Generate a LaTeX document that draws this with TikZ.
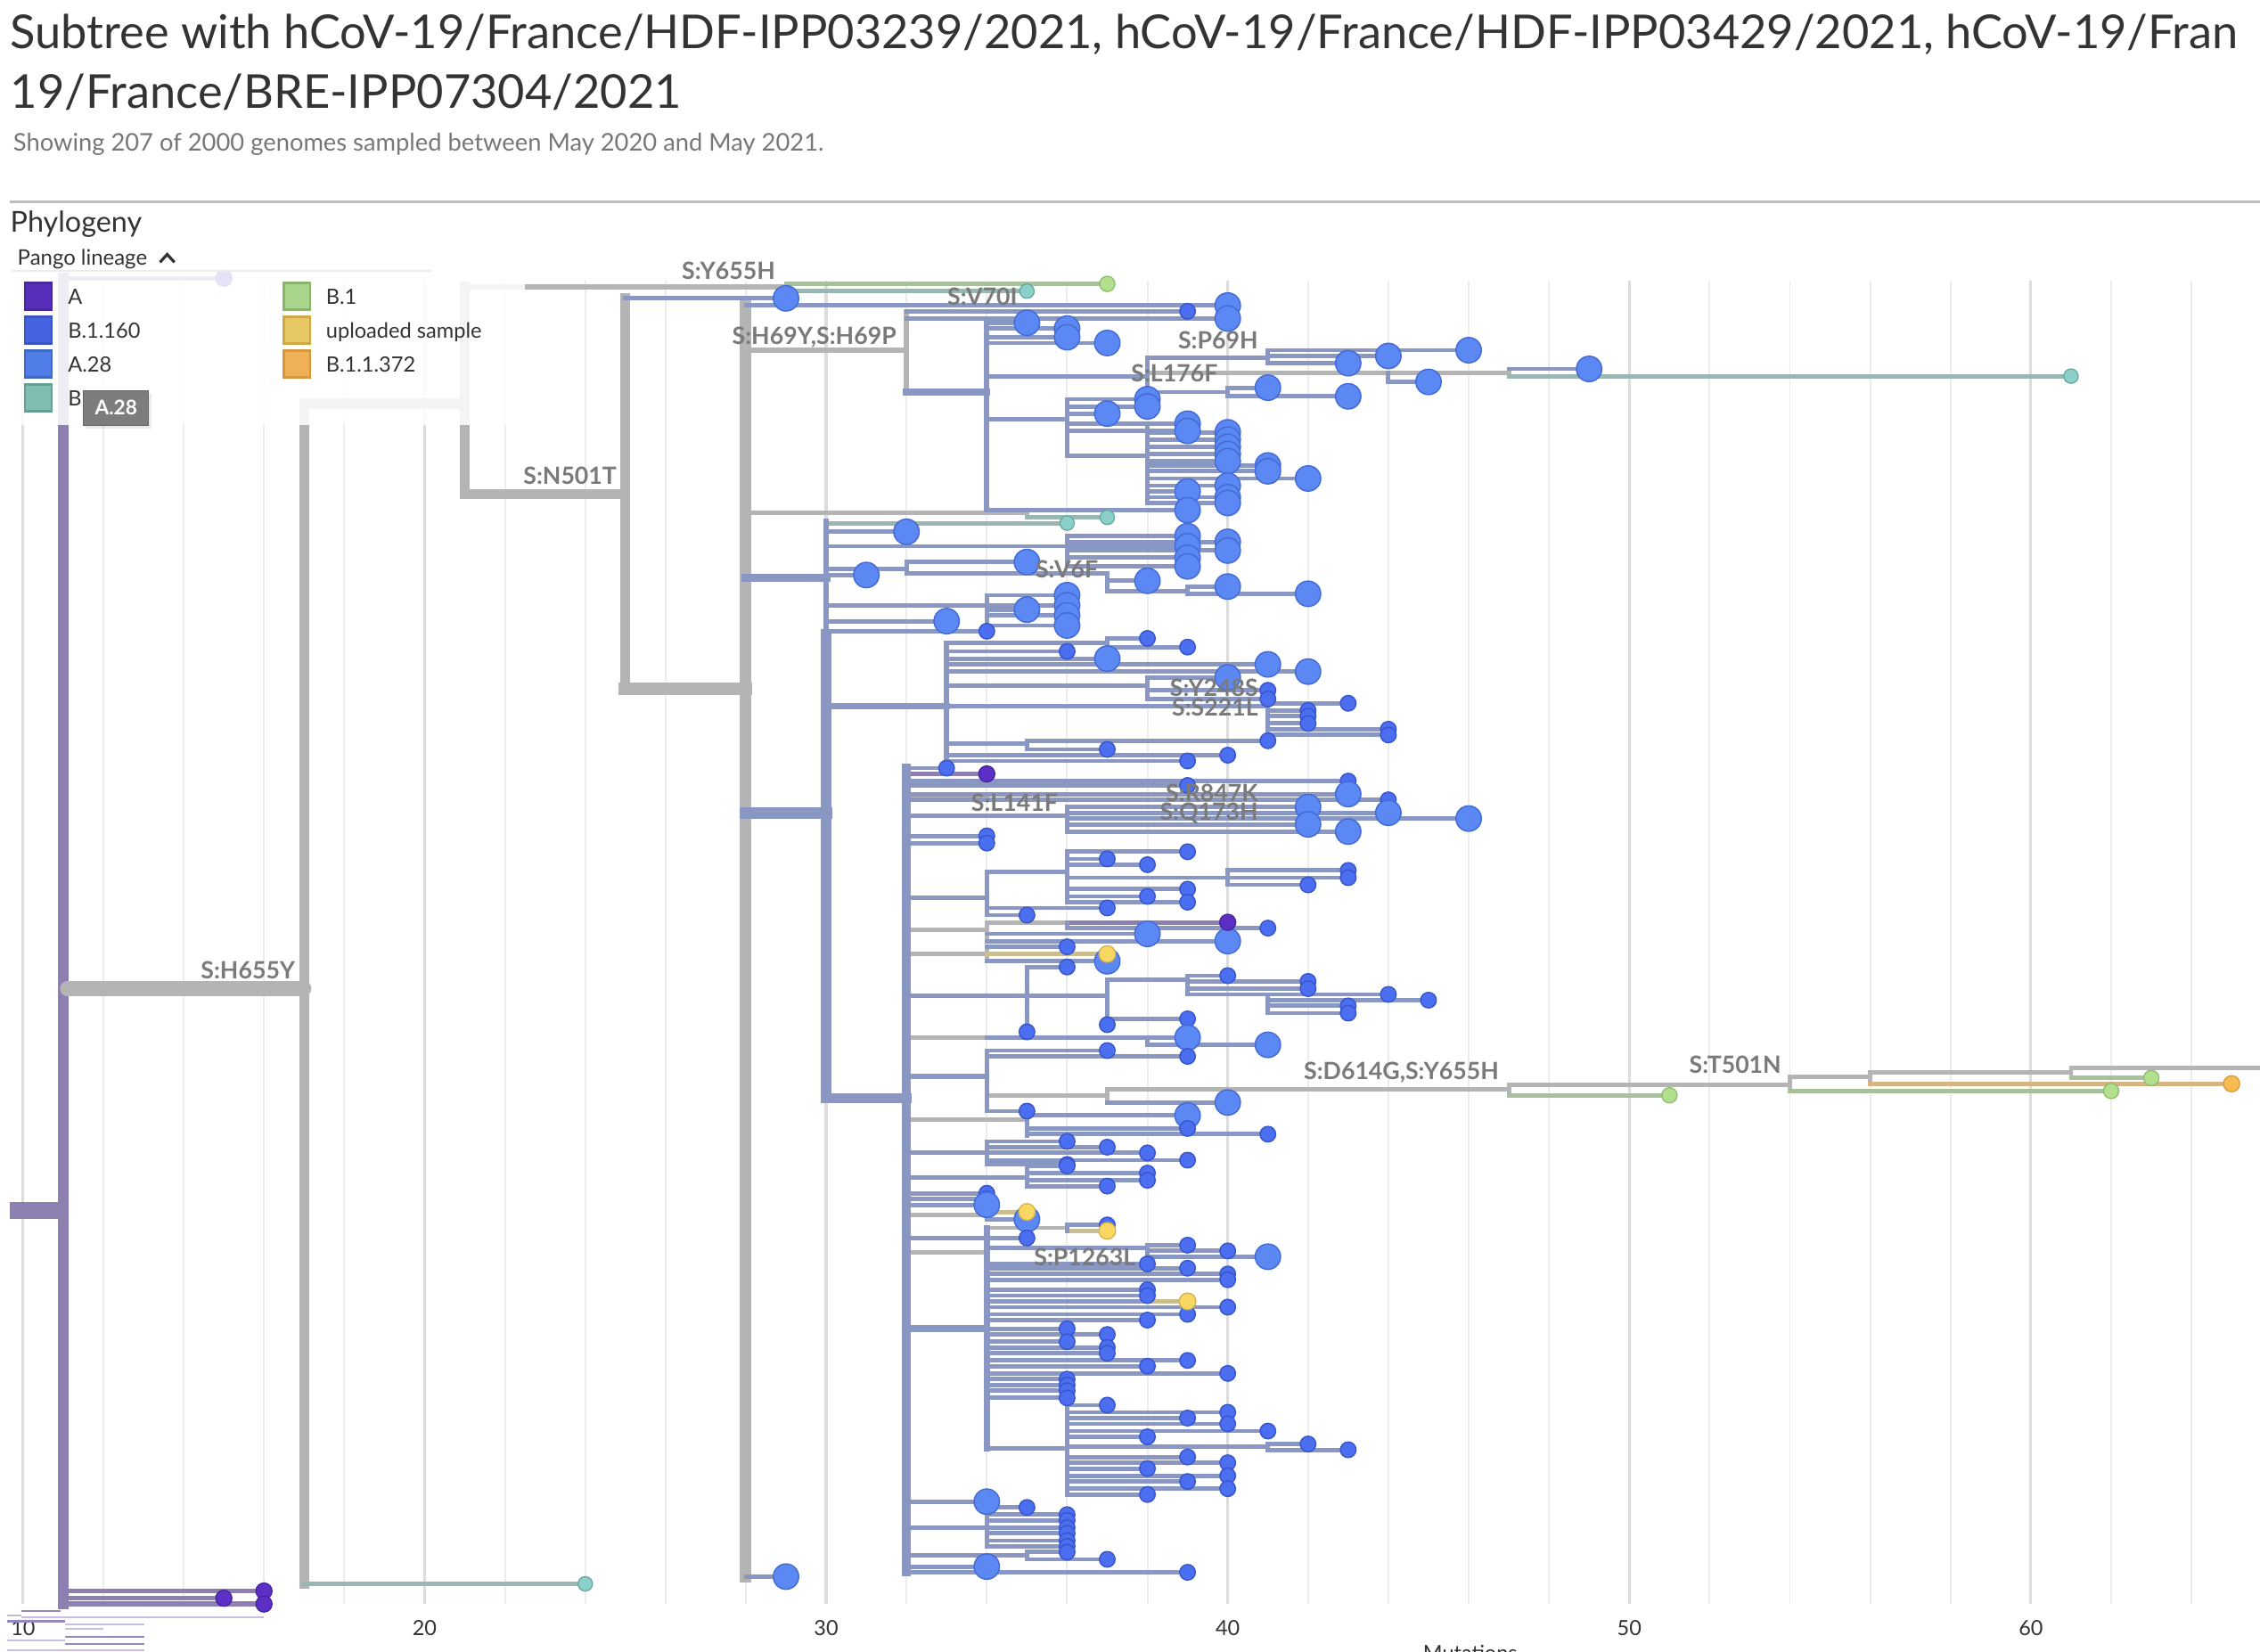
\documentclass[tikz,border=0pt]{standalone}
\usepackage{fontspec}
\setmainfont{Lato}
\definecolor{brblue}{RGB}{137,151,194}
\definecolor{brgrey}{RGB}{180,180,180}
\definecolor{brpurple}{RGB}{142,127,177}
\definecolor{brteal}{RGB}{154,182,178}
\definecolor{brgreen}{RGB}{168,192,156}
\definecolor{brtan}{RGB}{203,190,142}
\definecolor{brorange}{RGB}{214,180,132}
\definecolor{bigblue}{RGB}{91,136,243}
\definecolor{bigblueline}{RGB}{68,106,214}
\definecolor{smallblue}{RGB}{76,110,240}
\definecolor{smallblueline}{RGB}{56,86,204}
\definecolor{lineA}{RGB}{92,48,196}
\definecolor{lineAdark}{RGB}{70,36,160}
\definecolor{lineB}{RGB}{138,208,200}
\definecolor{lineBdark}{RGB}{104,168,160}
\definecolor{lineBone}{RGB}{178,224,142}
\definecolor{lineBonedark}{RGB}{138,190,108}
\definecolor{upload}{RGB}{248,216,98}
\definecolor{uploaddark}{RGB}{214,176,66}
\definecolor{orangeB}{RGB}{246,187,82}
\definecolor{orangeBdark}{RGB}{218,154,52}
\definecolor{labelgrey}{RGB}{122,122,122}
\definecolor{textdark}{RGB}{51,51,51}
\definecolor{subgrey}{RGB}{119,119,119}
\definecolor{rulegrey}{RGB}{190,190,190}
\definecolor{gridlight}{RGB}{236,236,236}
\definecolor{griddark}{RGB}{220,220,220}
\definecolor{legA}{RGB}{86,46,186}
\definecolor{legAd}{RGB}{72,38,158}
\definecolor{legBa}{RGB}{70,100,226}
\definecolor{legBad}{RGB}{58,84,196}
\definecolor{legAb}{RGB}{80,126,230}
\definecolor{legAbd}{RGB}{64,104,200}
\definecolor{legB}{RGB}{128,190,180}
\definecolor{legBd}{RGB}{100,160,150}
\definecolor{legBone}{RGB}{168,212,140}
\definecolor{legBoned}{RGB}{138,180,110}
\definecolor{legU}{RGB}{232,200,100}
\definecolor{legUd}{RGB}{206,170,70}
\definecolor{legO}{RGB}{240,176,88}
\definecolor{legOd}{RGB}{215,150,60}
\definecolor{tooltipgrey}{RGB}{125,125,125}
\definecolor{minilav}{RGB}{200,190,225}
\definecolor{minipur}{RGB}{150,135,190}

\tikzset{
  branch/.style={line width=3pt, line cap=rect},
  bb/.style={branch, draw=brblue},
  gb/.style={branch, draw=brgrey},
  pb/.style={branch, draw=brpurple},
  tb/.style={branch, draw=brteal},
  greenb/.style={branch, draw=brgreen},
  ob/.style={branch, draw=brorange},
  yb/.style={branch, draw=brtan},
  tipL/.style={fill=bigblue, draw=bigblueline, line width=0.9pt, radius=8.8pt},
  tipS/.style={fill=smallblue, draw=smallblueline, line width=0.9pt, radius=5.4pt},
  tipN/.style={radius=0.1pt},
  tipA/.style={fill=lineA, draw=lineAdark, line width=0.8pt, radius=5.6pt},
  tipB/.style={fill=lineB, draw=lineBdark, line width=0.8pt, radius=5pt},
  tipBone/.style={fill=lineBone, draw=lineBonedark, line width=0.8pt, radius=5.3pt},
  tipU/.style={fill=upload, draw=uploaddark, line width=0.8pt, radius=5.8pt},
  tipO/.style={fill=orangeB, draw=orangeBdark, line width=0.8pt, radius=5.6pt},
  gridminor/.style={draw=gridlight, line width=1.2pt},
  gridmajor/.style={draw=griddark, line width=2pt},
  lbl/.style={font=\fontsize{16.5}{18}\selectfont\bfseries, text=labelgrey, anchor=base east, inner sep=0pt},
  legtxt/.style={font=\fontsize{14.6}{16}\selectfont, text=textdark, anchor=base west, inner sep=0pt},
  legsq/.style={minimum size=18.5pt, inner sep=0pt, line width=1.6pt},
  ticklbl/.style={font=\fontsize{14.5}{16}\selectfont, text=textdark, anchor=base, inner sep=0pt},
  minil/.style={line width=1.3pt}
}

\def\hbtop{25/29/207/L, 28/40/212/L, 32/39/216/S, 32/40/221/L, 34/35/224/L, 34/36/228/L, 34/36/234/L, 34/37/238/L,
  34/38/261/N, 38/41/248/N, 41/46/243/L, 41/44/247/L, 41/43/252/L, 44/45/265/L, 47/49/256/L, 38/40/272/N,
  40/41/269/L, 40/43/275/L, 34/36/291/N, 36/38/277/L, 36/38/282/L, 36/37/287/L, 36/39/294/L, 36/39/299/L,
  36/38/316/N, 38/40/300/L, 38/40/305/L, 38/40/310/L, 38/40/315/L, 38/40/320/L, 38/41/323/L, 38/41/327/L,
  38/42/332/L, 38/40/337/L, 38/39/341/L, 38/40/345/L, 38/40/349/L, 34/39/354/L}

\def\hbmid{30/32/369/L, 30/36/379/N, 36/39/372/L, 36/40/376/L, 36/39/379/L, 36/40/382/L, 36/39/387/L, 36/39/393/L,
  30/32/395/N, 32/35/390/L, 32/37/398/N, 37/38/403/L, 37/39/410/N, 39/40/407/L, 39/42/412/L, 30/31/399/L,
  30/34/420/N, 34/36/413/L, 34/35/423/L, 34/36/420/L, 34/36/427/L, 34/36/434/L, 30/33/431/L, 30/34/438/S,
  33/37/446/N, 37/38/443/S, 37/39/449/S, 33/36/452/S, 33/37/457/L, 33/41/461/L, 33/42/466/L, 33/38/476/N,
  38/40/470/L, 38/41/479/S, 38/41/485/S, 33/41/490/N, 41/43/488/S, 41/42/493/S, 41/42/497/S, 41/42/502/S,
  41/44/506/S, 41/44/510/S, 33/35/516/N, 35/41/514/S, 35/37/520/S, 33/40/524/S, 33/39/528/S}

\def\hblow{32/33/533/S, 32/43/542/S, 32/39/545/S, 32/43/551/L, 32/44/555/S, 32/36/566/N, 36/42/560/L, 36/44/564/L,
  36/46/568/L, 36/42/572/L, 36/43/577/L, 32/34/580/S, 32/34/585/S, 32/34/623/N, 34/36/605/N, 36/39/591/S,
  36/37/596/S, 36/38/600/S, 36/40/609/N, 40/43/604/S, 40/43/609/S, 40/42/614/S, 36/39/617/S, 36/38/622/S,
  36/39/626/S, 34/37/630/S, 34/35/635/S, 36/41/644/S, 34/38/648/L, 34/40/653/L, 34/36/657/S, 34/37/667/L,
  32/35/691/N, 35/36/671/S, 35/37/691/N, 37/39/680/N, 39/40/677/S, 39/42/681/S, 39/42/686/S, 39/41/690/N,
  41/44/690/S, 41/45/694/S, 41/43/698/S, 41/43/703/S, 37/39/707/S, 37/37/711/S, 35/35/716/S, 34/39/720/L,
  38/41/725/L, 34/37/729/S, 34/39/733/S, 37/40/765/L, 34/35/771/S, 35/39/774/L, 35/39/783/S, 35/41/787/S,
  32/34/800/N, 34/36/792/S, 34/37/796/S, 34/38/800/S, 34/39/805/S, 34/36/808/S, 32/35/817/N, 35/36/809/S,
  35/38/814/S, 35/38/819/S, 35/37/823/S, 32/34/828/S, 32/34/832/S, 32/34/836/L, 34/35/846/L, 32/35/859/S,
  36/37/850/S, 34/38/866/N, 38/39/864/S, 38/40/868/S, 38/41/872/L, 34/38/877/S, 34/39/880/S, 34/40/884/S,
  34/40/888/S, 34/38/895/S, 34/38/899/S, 34/38/903/N, 34/40/907/S, 34/39/912/S, 34/38/916/S, 34/36/922/S,
  34/37/926/S, 34/36/931/S, 34/37/935/S, 34/37/939/S, 34/39/944/S, 34/38/948/S, 34/40/953/S, 34/36/957/S,
  34/36/961/S, 34/36/965/S, 34/36/970/S, 34/36/1005/N, 36/37/975/S, 36/40/980/S, 36/39/984/S, 36/40/988/S,
  36/41/993/S, 36/38/997/S, 36/41/1004/N, 41/42/1002/S, 41/43/1006/S, 36/39/1011/S, 36/40/1015/S, 36/38/1019/S,
  36/40/1024/S, 36/39/1028/S, 36/40/1033/S, 36/38/1037/S, 32/34/1042/L, 32/34/1060/N, 34/35/1046/S, 34/36/1051/S,
  34/36/1055/S, 34/36/1060/S, 34/36/1064/S, 34/36/1069/S, 34/36/1073/S, 32/35/1079/N, 35/36/1077/S, 35/37/1082/S,
  32/34/1087/L, 32/39/1091/S, 28/29/1094/L}

\def\vb{34/224/354/3.5, 38/248/272/3, 41/243/252/3, 44/259/265/3, 40/269/275/3, 36/277/316/3,
  38/297/349/3, 30/362/438/4, 36/372/393/3, 32/390/398/3, 37/398/410/3, 39/407/412/3, 34/413/434/3,
  30/440/762/7, 33/446/528/3.5, 37/443/449/3, 38/470/485/3, 41/488/510/3, 35/514/520/3, 32/533/1091/6,
  36/560/577/3, 34/605/635/3, 36/591/626/3, 40/604/614/3, 36/640/644/3, 35/671/716/3, 37/680/711/3,
  39/677/690/3, 41/690/703/3, 38/720/725/3, 34/729/771/3, 35/773/788/3, 34/792/808/3, 35/809/823/3,
  34/841/846/3, 34/852/1005/4, 36/850/854/3, 38/864/872/3, 36/975/1037/3, 41/1002/1006/3,
  34/1046/1073/3, 35/1077/1082/3}

\begin{document}
\begin{tikzpicture}[x=1pt,y=-1pt]
\useasboundingbox (0,0) rectangle (1568,1146);
\fill[white] (0,0) rectangle (1568,1146);

\node[anchor=base west, inner sep=0pt, text=textdark, font=\fontsize{32.4}{38}\selectfont] (title) at (7,34)
  {Subtree with hCoV-19/France/HDF-IPP03239/2021, hCoV-19/France/HDF-IPP03429/2021, hCoV-19/Fran};
\node[anchor=base west, inner sep=0pt, text=textdark, font=\fontsize{32.4}{38}\selectfont] (titletwo) at (7,75)
  {19/France/BRE-IPP07304/2021};
\node[anchor=base west, inner sep=0pt, text=subgrey, font=\fontsize{16.9}{19}\selectfont] (subtitle) at (9,105)
  {Showing 207 of 2000 genomes sampled between May 2020 and May 2021.};
\draw[rulegrey, line width=2pt] (7,140) -- (1568,140);
\node[anchor=base west, inner sep=0pt, text=textdark, font=\fontsize{20}{22}\selectfont] (phylo) at (7,161) {Phylogeny};

\begin{scope}[x=27.86pt, xshift=-262.6pt]
  \foreach \m in {12,14,...,64} \draw[gridminor] (\m,195) -- (\m,1113);
  \foreach \m in {10,20,...,60} {
    \draw[gridmajor] (\m,195) -- (\m,1113);
    \node[ticklbl] (tick\m) at (\m,1135) {\m};
  }

  \draw[pb, line width=12pt, line cap=butt] (9.68,840) -- (11,840);
  \draw[pb, line width=7pt] (11,193) -- (11,1113);
  \draw[pb] (11,193) -- (15,193);
  \draw[pb, line width=3.4pt] (11,1104) -- (16,1104);
  \draw[pb, line width=3.4pt] (11,1109) -- (15,1109);
  \draw[pb, line width=3.4pt] (11,1113) -- (16,1113);

  \draw[gb, line width=10pt, line cap=round] (11.1,686) -- (17,686);
  \draw[gb, line width=7pt] (17,280) -- (17,1099);
  \draw[tb, line width=3.5pt] (17,1099) -- (24,1099);
  \draw[gb, line width=7pt] (17,280) -- (21,280);
  \draw[gb, line width=7pt] (21,199) -- (21,343);
  \draw[gb, line width=3.5pt] (21,199) -- (29,199);
  \draw[gb] (29,197) -- (29,202);
  \draw[greenb] (29,197) -- (37,197);
  \draw[tb] (29,202) -- (35,202);
  \draw[gb, line width=7pt] (21,343) -- (25,343);
  \draw[gb, line width=7pt] (25,207) -- (25,478);
  \draw[gb, line width=9pt] (25,478) -- (28,478);
  \draw[gb, line width=8pt] (28,212) -- (28,1094);
  \draw[gb, line width=4pt] (28,243) -- (32,243);
  \draw[gb, line width=3.5pt] (32,216) -- (32,272);
  \draw[gb] (28,356) -- (35,356);
  \draw[gb] (35,356) -- (35,359);
  \draw[tb] (35,359) -- (37,359);
  \draw[tb] (30,363) -- (36,363);
  \draw[gb] (38,259) -- (47,259);
  \draw[gb] (47,256) -- (47,261);
  \draw[tb] (47,261) -- (61,261);

  \draw[bb, line width=5pt] (32,272) -- (34,272);
  \draw[bb, line width=6pt] (28,401) -- (30,401);
  \draw[bb, line width=8pt] (28,564) -- (30,564);
  \draw[bb, line width=4.5pt] (30,490) -- (33,490);
  \draw[bb, line width=7pt] (30,762) -- (32,762);
  \draw[bb, line width=5pt] (32,922) -- (34,922);
  \draw[bb, line width=3.5pt] (32,747) -- (34,747);

  \draw[gb] (32,553) -- (34,553);
  \draw[pb] (32,537) -- (34,537);
  \draw[gb] (32,645) -- (34,645);
  \draw[gb] (34,640) -- (34,653);
  \draw[gb] (34,640) -- (36,640);
  \draw[pb] (36,640) -- (40,640);
  \draw[gb] (32,662) -- (34,662);
  \draw[gb] (34,657) -- (34,667);
  \draw[yb] (34,662) -- (37,662);
  \draw[gb] (32,720) -- (34,720);
  \draw[gb] (34,760) -- (37,760);
  \draw[gb] (37,756) -- (37,765);
  \draw[gb] (37,756) -- (47,756);
  \draw[gb] (47,753) -- (47,760);
  \draw[greenb] (47,760) -- (51,760);
  \draw[gb] (47,753) -- (54,753);
  \draw[gb] (54,747) -- (54,757);
  \draw[greenb] (54,757) -- (62,757);
  \draw[gb] (54,747) -- (56,747);
  \draw[gb] (56,744) -- (56,752);
  \draw[ob] (56,752) -- (65,752);
  \draw[gb] (56,744) -- (61,744);
  \draw[gb] (61,741) -- (61,748);
  \draw[greenb] (61,748) -- (63,748);
  \draw[gb] (61,741) -- (66,741);
  \draw[gb] (32,777) -- (35,777);
  \draw[gb] (32,843) -- (34,843);
  \draw[yb] (34,841) -- (35,841);
  \draw[gb] (34,852) -- (36,852);
  \draw[yb] (36,854) -- (37,854);
  \draw[gb] (32,869) -- (34,869);
  \draw[yb] (38,903) -- (39,903);

  \foreach \mx/\ya/\yb/\w in \vb \draw[bb, line width=\w pt] (\mx,\ya) -- (\mx,\yb);
  \foreach \xa/\xb/\yy/\tp in \hbtop \draw[bb] (\xa,\yy) -- (\xb,\yy);
  \foreach \xa/\xb/\yy/\tp in \hbmid \draw[bb] (\xa,\yy) -- (\xb,\yy);
  \foreach \xa/\xb/\yy/\tp in \hblow \draw[bb] (\xa,\yy) -- (\xb,\yy);

  \foreach \xa/\xb/\yy/\tp in \hbtop \path[tip\tp] (\xb,\yy) circle;
  \foreach \xa/\xb/\yy/\tp in \hbmid \path[tip\tp] (\xb,\yy) circle;
  \foreach \xa/\xb/\yy/\tp in \hblow \path[tip\tp] (\xb,\yy) circle;

  \path[tipA] (15,193) circle;
  \path[tipA] (16,1104) circle;
  \path[tipA] (15,1109) circle;
  \path[tipA] (16,1113) circle;
  \path[tipA] (34,537) circle;
  \path[tipA] (40,640) circle;
  \path[tipB] (24,1099) circle;
  \path[tipB] (35,202) circle;
  \path[tipB] (37,359) circle;
  \path[tipB] (36,363) circle;
  \path[tipB] (61,261) circle;
  \path[tipBone] (37,197) circle;
  \path[tipBone] (51,760) circle;
  \path[tipBone] (62,757) circle;
  \path[tipBone] (63,748) circle;
  \path[tipO] (65,752) circle;
  \path[tipU] (37,662) circle;
  \path[tipU] (35,841) circle;
  \path[tipU] (37,854) circle;
  \path[tipU] (39,903) circle;
\end{scope}

\fill[white, opacity=0.86] (5,166) rectangle (364,295);
\draw[gridlight, line width=0.8pt] (8,188) -- (300,188);
\node[anchor=base west, inner sep=0pt, text=textdark, font=\fontsize{14.8}{16}\selectfont] (pango) at (12,184) {Pango lineage};
\draw[textdark, line width=2pt] (111,182) -- (116,176.5) -- (121,182);

\node[legsq, fill=legA, draw=legAd] (sqA) at (26.5,205.5) {};
\node[legsq, fill=legBa, draw=legBad] (sqBa) at (26.5,229) {};
\node[legsq, fill=legAb, draw=legAbd] (sqAb) at (26.5,252.5) {};
\node[legsq, fill=legB, draw=legBd] (sqB) at (26.5,276) {};
\node[legsq, fill=legBone, draw=legBoned] (sqBone) at (206,205.5) {};
\node[legsq, fill=legU, draw=legUd] (sqU) at (206,229) {};
\node[legsq, fill=legO, draw=legOd] (sqO) at (206,252.5) {};
\node[legtxt] (txtA) at (47,211) {A};
\node[legtxt] (txtBa) at (47,234.5) {B.1.160};
\node[legtxt] (txtAb) at (47,258) {A.28};
\node[legtxt] (txtB) at (47,281.5) {B};
\node[legtxt] (txtBone) at (226,211) {B.1};
\node[legtxt] (txtU) at (226,234.5) {uploaded sample};
\node[legtxt] (txtO) at (226,258) {B.1.1.372};

\fill[black, opacity=0.08] (59.5,273) rectangle (105,297.5);
\node[fill=tooltipgrey, draw=tooltipgrey!80!black, line width=0.6pt, text=white, inner sep=0pt,
  minimum width=45pt, minimum height=24pt, font=\fontsize{14}{16}\selectfont\bfseries] (tooltip) at (80.5,283) {A.28};

\node[lbl] (lblYsix) at (538,194) {S:Y655H};
\node[lbl] (lblVseventy) at (706,212) {S:V70I};
\node[lbl] (lblHsixnine) at (622,239) {S:H69Y,S:H69P};
\node[lbl] (lblPsixnine) at (873,242) {S:P69H};
\node[lbl] (lblLone) at (845,265) {S:L176F};
\node[lbl] (lblNfive) at (428,336) {S:N501T};
\node[lbl] (lblVsix) at (762,401) {S:V6F};
\node[lbl] (lblYtwo) at (873,483) {S:Y248S};
\node[lbl] (lblStwo) at (873,497) {S:S221L};
\node[lbl] (lblReight) at (873,556) {S:R847K};
\node[lbl] (lblLonefour) at (734,563) {S:L141F};
\node[lbl] (lblQone) at (873,569) {S:Q173H};
\node[lbl] (lblHsix) at (205,679) {S:H655Y};
\node[lbl] (lblDsix) at (1040,749) {S:D614G,S:Y655H};
\node[lbl] (lblTfive) at (1236,745) {S:T501N};
\node[lbl] (lblPone) at (788,878) {S:P1263L};

\draw[minil, minipur] (15,1118) -- (42,1118);
\draw[minil, rulegrey] (5,1121) -- (15,1121);
\draw[minil, minilav] (15,1122) -- (183,1122);
\draw[minil, minipur] (5,1125) -- (45,1125);
\draw[minil, minilav] (45,1127) -- (100,1127);
\draw[minil, minilav] (45,1130) -- (72,1130);
\draw[minil, minipur] (45,1136) -- (100,1136);
\draw[minil, minilav] (5,1138) -- (45,1138);
\draw[minil, minipur] (45,1141) -- (100,1141);
\draw[minil, minilav] (5,1145) -- (100,1145);

\node[anchor=base, inner sep=0pt, text=textdark, font=\fontsize{14.5}{16}\selectfont] (mutations) at (1020,1152) {Mutations};
\end{tikzpicture}
\end{document}
